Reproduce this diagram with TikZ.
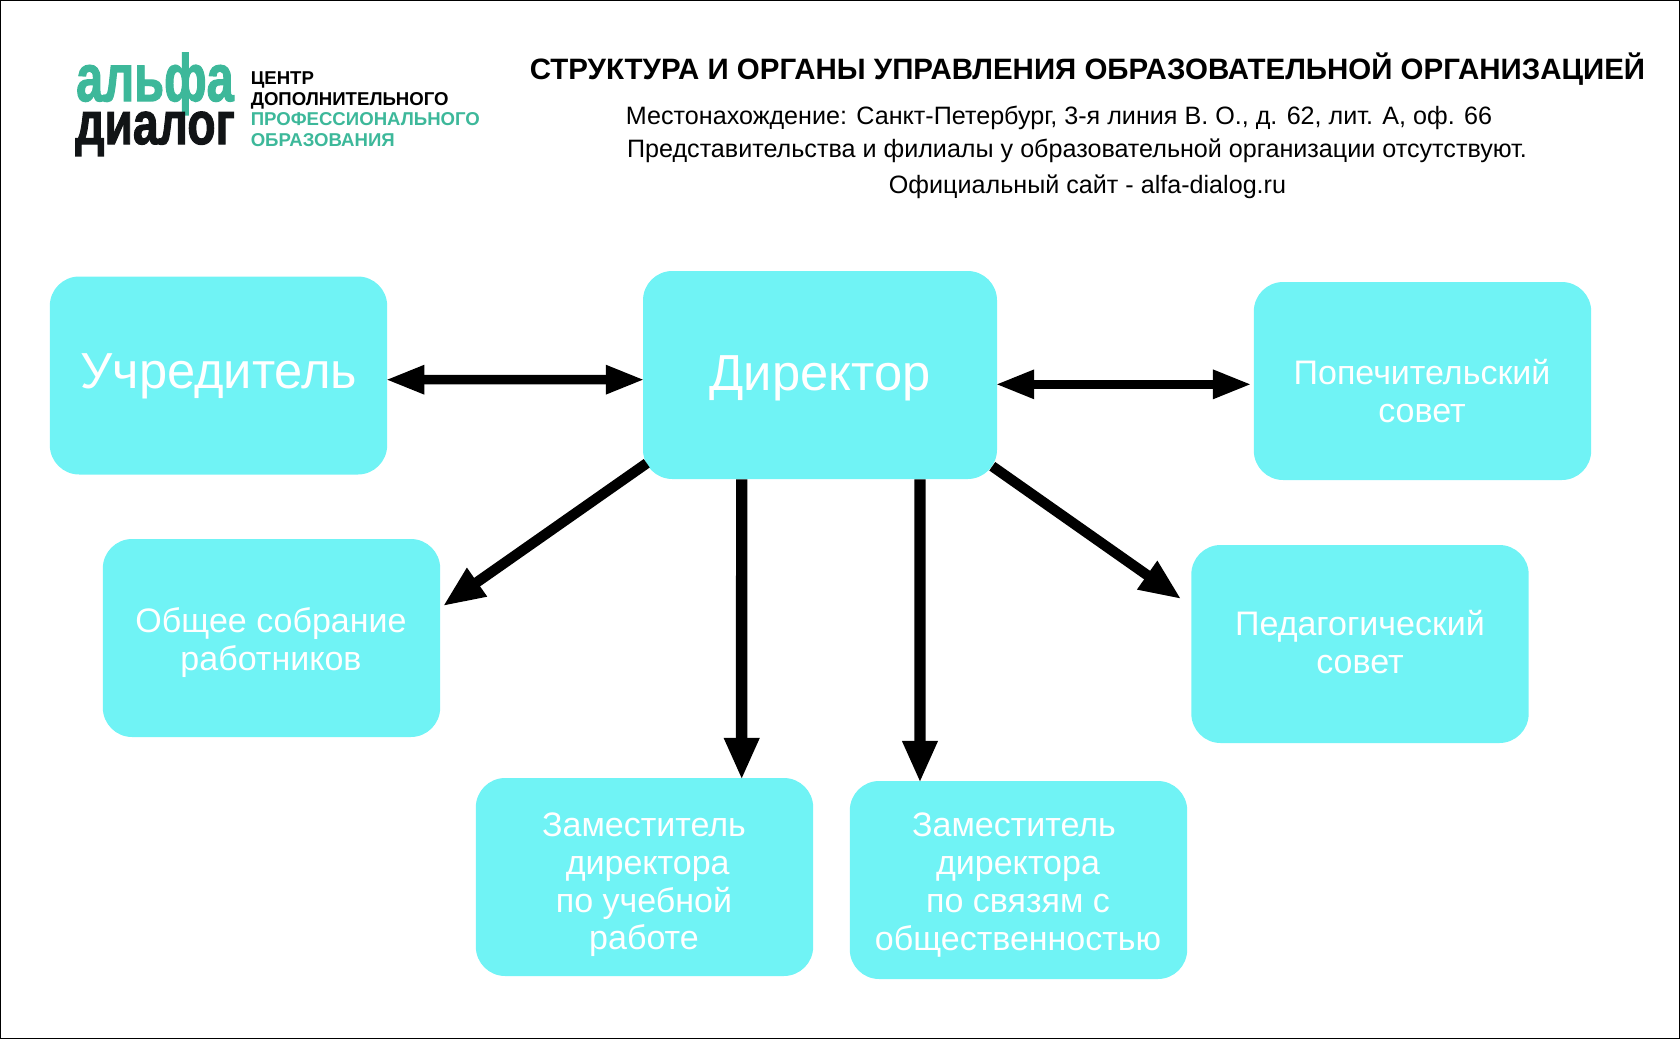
\documentclass[tikz,border=0pt]{standalone}
\usepackage{fontspec}
\setmainfont{Liberation Sans}
\newfontfamily\logofont[BoldFeatures={FakeBold=2}]{Liberation Sans}
\usetikzlibrary{arrows.meta}
\definecolor{boxc}{HTML}{70F3F5}
\definecolor{logog}{HTML}{3DB89A}
\definecolor{logok}{HTML}{111416}
\newcommand{\fs}[1]{\fontsize{#1}{#1}\selectfont}
\tikzset{
  orgbox/.style={fill=boxc,draw=none,rounded corners=22pt,inner sep=0pt,minimum width=#1},
  orgbox/.default=253pt,
  wt/.style={text=white,align=center,inner sep=0pt,font=\fs{25.5}},
  one/.style={draw=black,line width=7.8pt,shorten >=-1.6pt,-{Triangle[length=31.5pt,width=24pt]}},
  onev/.style={draw=black,line width=8.6pt,shorten >=-1.6pt,-{Triangle[length=31.5pt,width=24.5pt]}},
  two/.style={draw=black,line width=7.1pt,shorten >=-1.6pt,shorten <=-1.6pt,{Triangle[length=29.3pt,width=20pt]}-{Triangle[length=29.3pt,width=20pt]}},
  head/.style={inner sep=0pt,font=\fs{18.85}},
  sub/.style={inner sep=0pt,anchor=base west,font=\bfseries\fs{13.95}},
  big/.style={inner sep=0pt,anchor=base west,font=\logofont\bfseries\fs{#1},transform shape}
}
\begin{document}
\begin{tikzpicture}[x=0.75pt,y=-0.75pt]
\useasboundingbox (0,0) rectangle (1680,1039);
\draw[black,line width=1pt] (0.7,0.7) rectangle (1679.3,1038.3);
% logo
\node[big=50,text=logog,xscale=0.73] (l1) at (76,101) {альфа};
\node[big=45,text=logok,xscale=0.77] (l2) at (75,144) {диалог};
\node[sub,text=black] (s1) at (250.5,84) {ЦЕНТР};
\node[sub,text=black] (s2) at (250.5,105) {ДОПОЛНИТЕЛЬНОГО};
\node[sub,text=logog] (s3) at (250.5,125.5) {ПРОФЕССИОНАЛЬНОГО};
\node[sub,text=logog] (s4) at (250.5,146) {ОБРАЗОВАНИЯ};
% heading
\node[head,font=\bfseries\fs{22.1}] (t0) at (1087.5,69.5) {СТРУКТУРА И ОРГАНЫ УПРАВЛЕНИЯ ОБРАЗОВАТЕЛЬНОЙ ОРГАНИЗАЦИЕЙ};
\node[head] (t1) at (1059,118) {Местонахождение: Санкт-Петербург, 3-я линия В. О., д. 62, лит. А, оф. 66};
\node[head] (t2) at (1077,151) {Представительства и филиалы у образовательной организации отсутствуют.};
\node[head] (t3) at (1087.5,187) {Официальный сайт - alfa-dialog.ru};
% boxes
\node[orgbox,minimum height=148.5pt] (uch) at (218.5,375.5) {};
\node[orgbox=265.5pt,minimum height=156pt] (dir) at (820,375) {};
\node[orgbox,minimum height=148.5pt] (pop) at (1422.5,381) {};
\node[orgbox,minimum height=148.5pt] (obs) at (271.5,638) {};
\node[orgbox,minimum height=148.5pt] (ped) at (1360,644) {};
\node[orgbox,minimum height=148.5pt] (zam1) at (644.5,877) {};
\node[orgbox,minimum height=148.5pt] (zam2) at (1018.5,880) {};
% box texts
\node[wt,font=\fs{38}] (uchT) at (219,376.3) {Учредитель};
\node[wt,font=\fs{38}] (dirT) at (820,378.4) {Директор};
\node[wt] (popT) at (1422,391) {Попечительский\\[2.9pt]совет};
\node[wt] (obsT) at (271,642.7) {Общее собрание\\[2.9pt]работников};
\node[wt] (pedT) at (1360,642) {Педагогический\\[2.9pt]совет};
\node[wt] (zam1T) at (644,884.8) {Заместитель\\[2.9pt]\hspace*{5.6pt}директора\\[2.9pt]по учебной\\[2.9pt]работе};
\node[wt] (zam2T) at (1018,884.8) {Заместитель\hspace*{6pt}\\[2.9pt]директора\hspace*{6pt}\\[2.9pt]по связям с\hspace*{6pt}\\[2.9pt]общественностью};
% connectors
\draw[two] ([yshift=-3.15pt]uch.east) -- ([yshift=-3.5pt]dir.west);
\draw[two] ([yshift=-7pt]dir.east) -- ([xshift=-2.8pt,yshift=-2.5pt]pop.west);
\draw[one] ([xshift=3pt,yshift=12pt]dir.south west) -- ([xshift=3pt,yshift=24.75pt]obs.east);
\draw[one] ([xshift=-3.75pt,yshift=9.75pt]dir.south east) -- ([xshift=-8.5pt,yshift=34.5pt]ped.west);
\draw[onev] ([xshift=-58.7pt]dir.south) -- ([xshift=72.9pt]zam1.north);
\draw[onev] ([xshift=75pt]dir.south) -- ([xshift=-73.9pt]zam2.north);
\end{tikzpicture}
\end{document}
